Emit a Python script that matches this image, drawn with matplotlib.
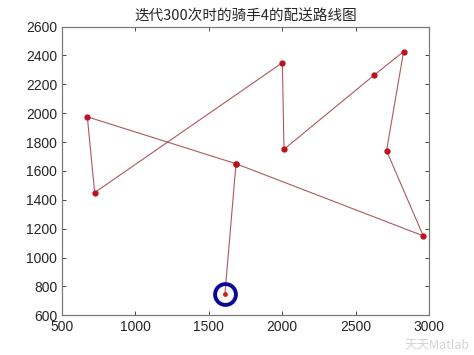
import matplotlib
matplotlib.use('Agg')
import matplotlib.pyplot as plt

plt.rcParams['font.family'] = ['Liberation Sans', 'Noto Sans CJK SC', 'DejaVu Sans']

# route of rider 4, starting at the depot
route_x = [1610, 1685, 672, 722, 2001, 2012, 2625, 2827, 2711, 2961, 1685]
route_y = [750, 1650, 1975, 1450, 2350, 1750, 2263, 2427, 1740, 1150, 1650]
depot_x = [1610]
depot_y = [750]
title = '迭代300次时的骑手4的配送路线图'
xticks = [500, 1000, 1500, 2000, 2500, 3000]
yticks = [600, 800, 1000, 1200, 1400, 1600, 1800, 2000, 2200, 2400, 2600]

fig = plt.figure(figsize=(4.74, 3.55), dpi=100)
ax = fig.add_axes([0.131, 0.112, 0.774, 0.813])

ax.plot(route_x, route_y, '-', color='#b0585c', lw=0.8)
ax.plot(route_x[1:], route_y[1:], 'o', color='#c0101e', ms=3.5)
ax.plot(depot_x, depot_y, 'o', color='#d02020', ms=2.5)
ax.plot(depot_x, depot_y, 'o', mfc='none', mec='#0a0a96', ms=15, mew=2.8)

ax.set_xlim(500, 3000)
ax.set_ylim(600, 2600)
ax.set_xticks(xticks)
ax.set_yticks(yticks)
ax.tick_params(direction='in', top=True, right=True, labelsize=10,
               colors='#262626', length=3, width=0.6)
for s in ax.spines.values():
    s.set_color('#7a7a7a')
    s.set_linewidth(0.9)
ax.set_title(title, fontsize=10.5, color='#262626', pad=4,
             family=['Noto Sans CJK SC', 'DejaVu Sans'])

fig.text(0.99, 0.01, '天天Matlab', ha='right', va='bottom', fontsize=9,
         color='#c8c8c8', alpha=0.8, family=['Noto Sans CJK SC', 'DejaVu Sans'])

fig.savefig('out.png', dpi=100)
